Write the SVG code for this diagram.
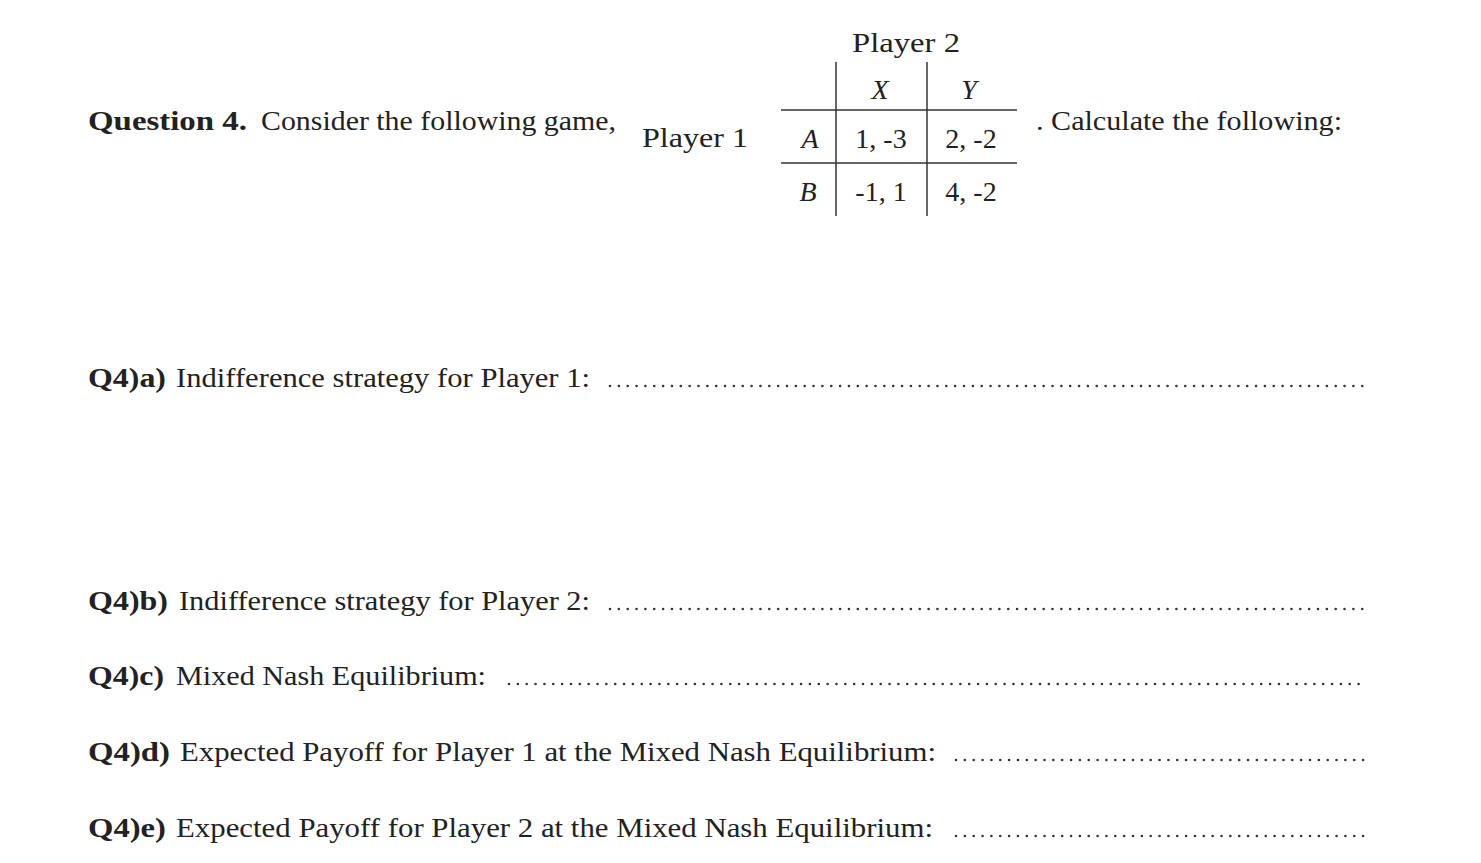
<svg xmlns="http://www.w3.org/2000/svg" width="1481" height="863" viewBox="0 0 1481 863">
<style>
text{font-family:"Liberation Serif","DejaVu Serif",serif;font-size:28px;fill:#222}
.b{font-weight:bold}
.i{font-style:italic}
.t{stroke:#333;stroke-width:1.5}
.d{stroke:#333;stroke-width:2.6;stroke-linecap:round;stroke-dasharray:0 8.85}
</style>
<rect width="1481" height="863" fill="#fff"/>
<text class="b" x="88" y="130" textLength="159" lengthAdjust="spacingAndGlyphs">Question 4.</text>
<text x="261" y="130" textLength="355" lengthAdjust="spacingAndGlyphs">Consider the following game,</text>
<text x="642" y="147" textLength="106" lengthAdjust="spacingAndGlyphs">Player 1</text>
<text x="852" y="52" textLength="108" lengthAdjust="spacingAndGlyphs">Player 2</text>
<g id="table">
<line class="t" x1="836" y1="62" x2="836" y2="216"/>
<line class="t" x1="927" y1="62" x2="927" y2="216"/>
<line class="t" x1="781" y1="110" x2="1017" y2="110"/>
<line class="t" x1="781" y1="163" x2="1017" y2="163"/>
<text class="i" x="880" y="99" text-anchor="middle">X</text>
<text class="i" x="969" y="99" text-anchor="middle">Y</text>
<text class="i" x="810" y="148" text-anchor="middle">A</text>
<text class="i" x="808" y="201" text-anchor="middle">B</text>
<text x="881" y="148" text-anchor="middle">1, -3</text>
<text x="971" y="148" text-anchor="middle">2, -2</text>
<text x="881" y="201" text-anchor="middle">-1, 1</text>
<text x="971" y="201" text-anchor="middle">4, -2</text>
</g>
<text x="1036" y="130" textLength="306" lengthAdjust="spacingAndGlyphs">. Calculate the following:</text>
<text class="b" x="88" y="387" textLength="78" lengthAdjust="spacingAndGlyphs">Q4)a)</text>
<text x="176" y="387" textLength="414" lengthAdjust="spacingAndGlyphs">Indifference strategy for Player 1:</text>
<line class="d" x1="610" y1="386" x2="1366" y2="386"/>
<text class="b" x="88" y="610" textLength="80" lengthAdjust="spacingAndGlyphs">Q4)b)</text>
<text x="179" y="610" textLength="411" lengthAdjust="spacingAndGlyphs">Indifference strategy for Player 2:</text>
<line class="d" x1="610" y1="609" x2="1366" y2="609"/>
<text class="b" x="88" y="685" textLength="76" lengthAdjust="spacingAndGlyphs">Q4)c)</text>
<text x="176" y="685" textLength="310" lengthAdjust="spacingAndGlyphs">Mixed Nash Equilibrium:</text>
<line class="d" x1="509" y1="684" x2="1366" y2="684"/>
<text class="b" x="88" y="761" textLength="82" lengthAdjust="spacingAndGlyphs">Q4)d)</text>
<text x="180" y="761" textLength="756" lengthAdjust="spacingAndGlyphs">Expected Payoff for Player 1 at the Mixed Nash Equilibrium:</text>
<line class="d" x1="956" y1="760" x2="1366" y2="760"/>
<text class="b" x="88" y="837" textLength="78" lengthAdjust="spacingAndGlyphs">Q4)e)</text>
<text x="176" y="837" textLength="757" lengthAdjust="spacingAndGlyphs">Expected Payoff for Player 2 at the Mixed Nash Equilibrium:</text>
<line class="d" x1="956" y1="836" x2="1366" y2="836"/>
</svg>
